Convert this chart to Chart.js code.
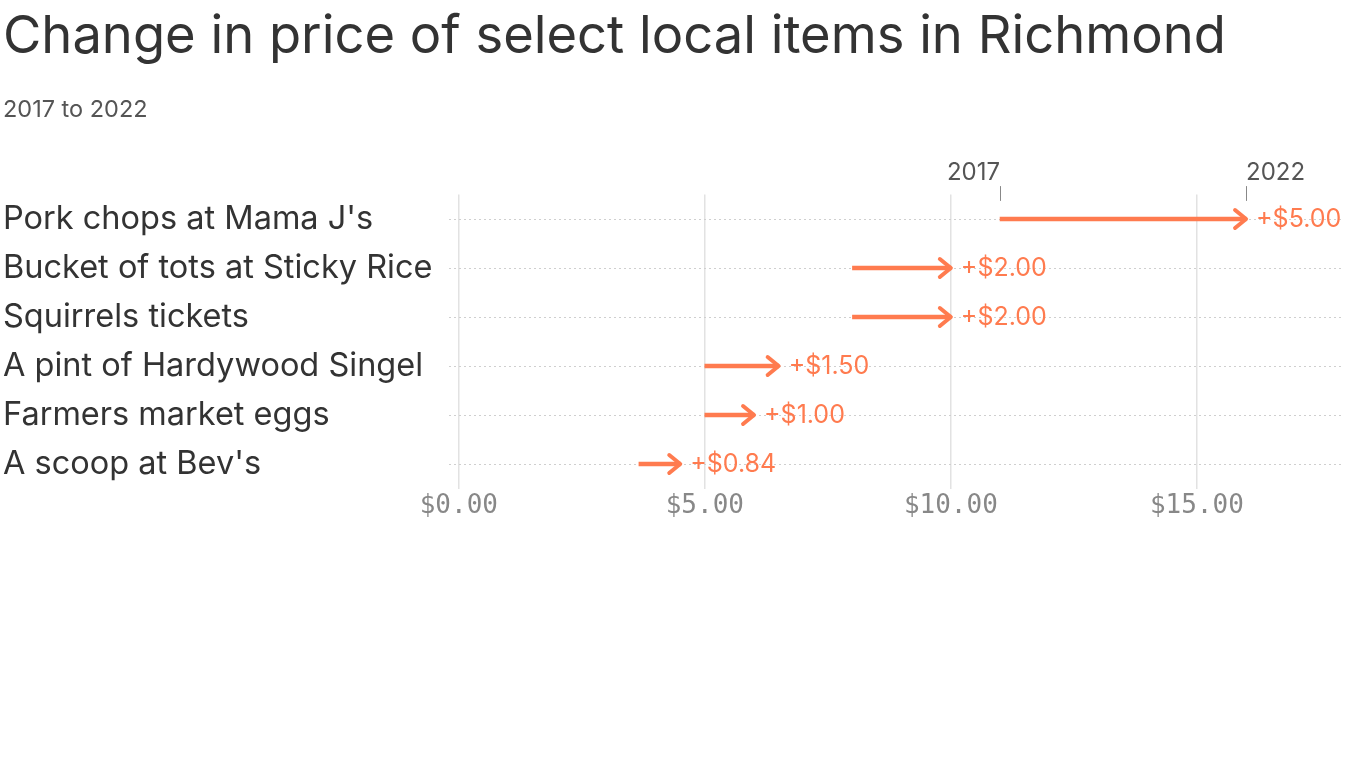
<!DOCTYPE html>
<html>
<head>
<meta charset="utf-8">
<script src="https://cdn.jsdelivr.net/npm/chart.js@4"></script>
<style>
    html, body { margin: 0; padding: 0; background: #fff; }
    #wrap { width: 1366px; height: 768px; position: relative; }
</style>
</head>
<body>
<div id="wrap"><canvas id="priceChart"></canvas></div>
<script>
const items = [
    "Pork chops at Mama J's",
    "Bucket of tots at Sticky Rice",
    "Squirrels tickets",
    "A pint of Hardywood Singel",
    "Farmers market eggs",
    "A scoop at Bev's"
];
const price2017 = [11, 8, 8, 5, 5, 3.66];
const price2022 = [16, 10, 10, 6.5, 6, 4.50];
const xTicks = [0, 5, 10, 15];
const yearLabels = ["2017", "2022"];

const ORANGE = "#ff7b4f";

const arrowPlugin = {
    id: "arrows",
    afterDatasetsDraw(chart) {
        const ctx = chart.ctx;
        const meta = chart.getDatasetMeta(0);
        ctx.save();
        meta.data.forEach((bar, i) => {
            const x = bar.x;
            const y = bar.y;
            // arrow head
            ctx.strokeStyle = ORANGE;
            ctx.lineWidth = 4;
            ctx.lineCap = "round";
            ctx.lineJoin = "round";
            ctx.beginPath();
            ctx.moveTo(x - 11, y - 9);
            ctx.lineTo(x, y);
            ctx.lineTo(x - 11, y + 9);
            ctx.stroke();
            // change label
            const diff = price2022[i] - price2017[i];
            ctx.fillStyle = ORANGE;
            ctx.font = "25px Inter";
            ctx.textAlign = "left";
            ctx.textBaseline = "middle";
            ctx.fillText("+$" + diff.toFixed(2), x + 10, y);
        });

        // year markers above the first row
        const first = meta.data[0];
        const top = chart.chartArea.top;
        ctx.strokeStyle = "#888";
        ctx.lineWidth = 1;
        ctx.fillStyle = "#555";
        ctx.font = "24px Inter";
        ctx.textBaseline = "middle";
        [first.base, first.x].forEach((px, k) => {
            ctx.beginPath();
            ctx.moveTo(Math.round(px) + 0.5, top - 8);
            ctx.lineTo(Math.round(px) + 0.5, top + 6);
            ctx.stroke();
            ctx.textAlign = k === 0 ? "right" : "left";
            ctx.fillText(yearLabels[k], px, top - 22);
        });
        ctx.restore();
    }
};

const chart = new Chart(document.getElementById("priceChart"), {
    type: "bar",
    data: {
        labels: items,
        datasets: [{
            data: items.map((_, i) => [price2017[i], price2022[i]]),
            backgroundColor: ORANGE,
            borderWidth: 0,
            borderSkipped: false,
            barThickness: 4
        }]
    },
    options: {
        indexAxis: "y",
        responsive: true,
        maintainAspectRatio: false,
        animation: false,
        layout: {
            padding: { left: 3, right: 24, top: 0, bottom: 239.5 }
        },
        plugins: {
            legend: { display: false },
            tooltip: { enabled: false },
            title: {
                display: true,
                text: "Change in price of select local items in Richmond",
                align: "start",
                color: "#333",
                font: { family: "Inter", size: 52.5, weight: "normal", lineHeight: 1.2 },
                padding: { top: 6, bottom: 0 }
            },
            subtitle: {
                display: true,
                text: "2017 to 2022",
                align: "start",
                color: "#555",
                font: { family: "Inter", size: 23.5, lineHeight: 1.2 },
                padding: { top: 27, bottom: 70.3 }
            }
        },
        scales: {
            x: {
                type: "linear",
                min: -0.2,
                max: 17.95,
                afterBuildTicks(scale) {
                    scale.ticks = xTicks.map(v => ({ value: v }));
                },
                afterFit(scale) {
                    scale.height = 40;
                },
                grid: {
                    color: "#e2e2e2",
                    lineWidth: 1.5,
                    drawTicks: false
                },
                border: { display: false },
                ticks: {
                    padding: 2,
                    color: "#888",
                    font: { family: "DejaVu Sans Mono", size: 26 },
                    callback: v => "$" + Number(v).toFixed(2)
                }
            },
            y: {
                afterFit(scale) {
                    scale.width = 446;
                },
                grid: {
                    offset: false,
                    color: "#cfcfcf",
                    lineWidth: 1,
                    drawTicks: false
                },
                border: { display: false, dash: [2, 3] },
                ticks: {
                    crossAlign: "far",
                    padding: 0,
                    color: "#333",
                    font: { family: "Inter", size: 32.5 }
                }
            }
        }
    },
    plugins: [arrowPlugin]
});
</script>
</body>
</html>
